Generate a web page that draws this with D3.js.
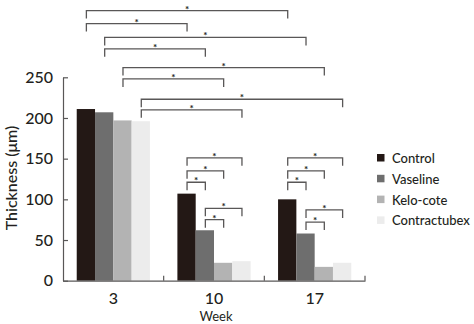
<!DOCTYPE html>
<html>
<head>
<meta charset="utf-8">
<script src="https://cdn.jsdelivr.net/npm/d3@7"></script>
<style>
  body { margin: 0; background: #fff; }
  text { font-family: Lato, "Noto Sans", sans-serif; fill: #231f20; }
</style>
</head>
<body>
<div id="vis"></div>
<script>
// data
var weeks = ["3", "10", "17"];
var series = ["Control", "Vaseline", "Kelo-cote", "Contractubex"];
var control = [211, 107, 100];
var vaseline = [207, 62, 58];
var keloCote = [197, 22, 17];
var contractubex = [196, 24, 22];
var yTicks = [0, 50, 100, 150, 200, 250];
var colors = ["#231815", "#6e6e6e", "#b3b3b3", "#ececec"];

// significance brackets between weeks: [series, week a, week b, y level]
var acrossWeeks = [
    ["Control", "3", "17", 332],
    ["Control", "3", "10", 316],
    ["Vaseline", "3", "17", 299],
    ["Vaseline", "3", "10", 285],
    ["Kelo-cote", "3", "17", 262],
    ["Kelo-cote", "3", "10", 248],
    ["Contractubex", "3", "17", 223],
    ["Contractubex", "3", "10", 210]
];
// brackets within a week: [week, series a, series b, y level]
var withinWeek = [
    ["10", "Control", "Contractubex", 151],
    ["10", "Control", "Kelo-cote", 135],
    ["10", "Control", "Vaseline", 121],
    ["10", "Vaseline", "Contractubex", 89],
    ["10", "Vaseline", "Kelo-cote", 75],
    ["17", "Control", "Contractubex", 151],
    ["17", "Control", "Kelo-cote", 135],
    ["17", "Control", "Vaseline", 121],
    ["17", "Vaseline", "Contractubex", 87],
    ["17", "Vaseline", "Kelo-cote", 72]
];

var values = [control, vaseline, keloCote, contractubex];
var dataset = weeks.map(function(w, i) {
    var row = {week: w};
    series.forEach(function(s, j) { row[s] = values[j][i]; });
    return row;
});

var w = 474, h = 324;
var svg = d3.select("#vis").append("svg")
            .attr("width", w)
            .attr("height", h);

var x0 = d3.scaleBand().domain(weeks).range([63, 365]).padding(0);
var x1 = d3.scaleBand().domain(series).range([0, x0.bandwidth()])
            .paddingInner(0).paddingOuter(0.75);
var y = d3.scaleLinear().domain([0, 250]).range([280.7, 77.3]);
var color = d3.scaleOrdinal().domain(series).range(colors);

function cx(week, s) { return x0(week) + x1(s) + x1.bandwidth() / 2 + 0.5; }

// bars
svg.append("g")
    .selectAll("g")
    .data(dataset)
    .enter()
    .append("g")
    .attr("transform", function(d) { return "translate(" + x0(d.week) + ",0)"; })
    .selectAll("rect")
    .data(function(d) { return series.map(function(s) { return {key: s, value: d[s]}; }); })
    .enter()
    .append("rect")
    .attr("x", function(d) { return x1(d.key); })
    .attr("y", function(d) { return y(d.value); })
    .attr("width", x1.bandwidth())
    .attr("height", function(d) { return y(0) - y(d.value); })
    .attr("fill", function(d) { return color(d.key); });

// y axis
var yAxis = svg.append("g")
    .attr("transform", "translate(63,0)")
    .call(d3.axisLeft(y).tickValues(yTicks).tickSizeInner(-5).tickSizeOuter(0).tickPadding(10));
yAxis.selectAll("text").style("font-size", "16px").style("font-weight", 500).attr("fill", "#231f20");
yAxis.selectAll("line, path").attr("stroke", "#595757").attr("stroke-width", 1.2);

// x axis
var xAxis = svg.append("g")
    .attr("transform", "translate(0,280.7)")
    .call(d3.axisBottom(x0).tickSize(0).tickPadding(12));
xAxis.selectAll("text").style("font-size", "16px").style("font-weight", 500).attr("fill", "#231f20");
xAxis.select("path").attr("stroke", "#595757").attr("stroke-width", 1.2);
xAxis.selectAll(".sep")
    .data(weeks)
    .enter()
    .append("line")
    .attr("x1", function(d) { return x0(d) + x0.bandwidth(); })
    .attr("x2", function(d) { return x0(d) + x0.bandwidth(); })
    .attr("y1", 0)
    .attr("y2", -5)
    .attr("stroke", "#595757")
    .attr("stroke-width", 1.2);

svg.append("text")
    .attr("x", 216)
    .attr("y", 321)
    .attr("text-anchor", "middle")
    .style("font-size", "13px")
    .text("Week");

svg.append("text")
    .attr("transform", "translate(17,178)rotate(-90)")
    .attr("text-anchor", "middle")
    .style("font-size", "16px")
    .style("font-weight", 500)
    .text("Thickness (μm)");

// brackets
var brackets = acrossWeeks.map(function(b) {
    return {xa: cx(b[1], b[0]), xb: cx(b[2], b[0]), yv: b[3]};
}).concat(withinWeek.map(function(b) {
    return {xa: cx(b[0], b[1]), xb: cx(b[0], b[2]), yv: b[3]};
}));

var br = svg.append("g").selectAll("g")
    .data(brackets)
    .enter()
    .append("g");

br.append("path")
    .attr("d", function(d) {
        var yy = y(d.yv);
        return "M" + d.xa + "," + (yy + 8) + "V" + yy + "H" + d.xb + "V" + (yy + 8);
    })
    .attr("fill", "none")
    .attr("stroke", "#595757")
    .attr("stroke-width", 1.3);

br.append("text")
    .attr("x", function(d) { return (d.xa + d.xb) / 2; })
    .attr("y", function(d) { return y(d.yv) + 2; })
    .attr("text-anchor", "middle")
    .style("font-size", "10px")
    .style("font-weight", 700)
    .text("*");

// legend
var legend = svg.append("g")
    .selectAll("g")
    .data(series)
    .enter()
    .append("g")
    .attr("transform", function(d, i) { return "translate(377," + (158 + i * 20.8) + ")"; });

legend.append("rect")
    .attr("y", -4)
    .attr("width", 7.5)
    .attr("height", 7.5)
    .attr("fill", function(d) { return color(d); });

legend.append("text")
    .attr("x", 15)
    .attr("y", 5)
    .style("font-size", "13px")
    .style("font-weight", 500)
    .text(function(d) { return d; });
</script>
</body>
</html>
